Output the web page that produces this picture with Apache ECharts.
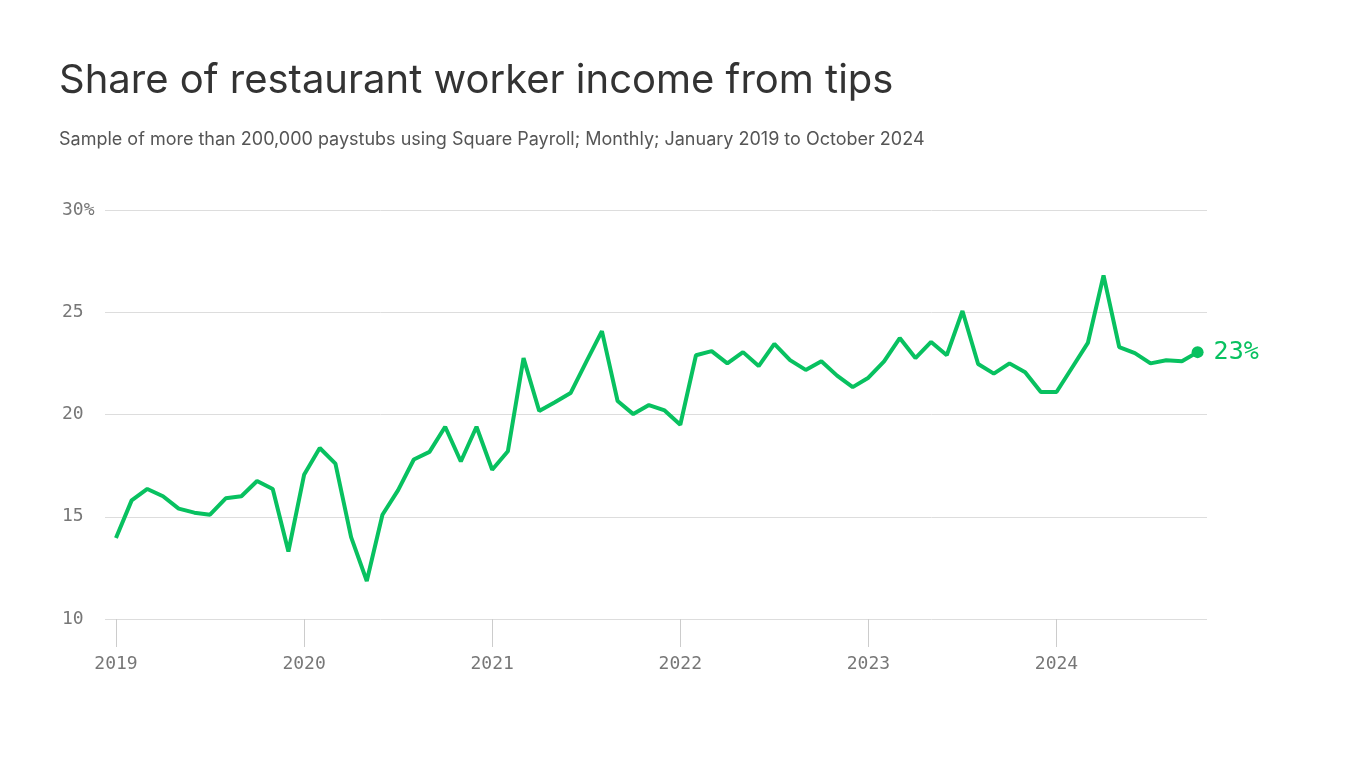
<!DOCTYPE html>
<html><head><meta charset="utf-8">
<script src="https://cdn.jsdelivr.net/npm/echarts@6/dist/echarts.min.js"></script>
<style>html,body{margin:0;background:#fff}#c{width:1366px;height:768px}</style>
</head><body><div id="c"></div>
<script>
const yearLabels = ['2019','2020','2021','2022','2023','2024'];
const tipShare = [13.96,15.8,16.36,16.0,15.4,15.2,15.1,15.9,16.0,16.75,16.36,13.3,
17.05,18.36,17.6,14.0,11.86,15.1,16.3,17.8,18.17,19.4,17.7,19.4,
17.3,18.2,22.76,20.17,20.6,21.05,22.57,24.08,20.66,20.02,20.46,20.2,
19.5,22.9,23.1,22.5,23.05,22.37,23.45,22.66,22.18,22.6,21.9,21.34,
21.8,22.6,23.74,22.76,23.55,22.9,25.06,22.47,22.0,22.5,22.07,21.1,
21.1,22.3,23.5,26.8,23.3,23.0,22.5,22.65,22.6,23.05];
const yTicks = [10,15,20,25,30];
const green = '#08c160';
const data = tipShare.map((v,i)=> i===tipShare.length-1 ? {value:[i,v],symbol:'circle',symbolSize:12,
  label:{show:true,position:'right',distance:10,formatter:'23%',fontSize:25,color:green,fontFamily:'DejaVu Sans Mono'}} : [i,v]);
const chart = echarts.init(document.getElementById('c'));
chart.setOption({
  animation:false,
  title:{text:'Share of restaurant worker income from tips',left:54,top:56,
    textStyle:{fontSize:40,fontWeight:'normal',color:'#333',fontFamily:'Inter'},
    subtext:'Sample of more than 200,000 paystubs using Square Payroll; Monthly; January 2019 to October 2024',
    subtextStyle:{fontSize:18,color:'#555',fontFamily:'Inter'},itemGap:30},
  grid:{left:105,right:159,top:210,bottom:149},
  xAxis:{type:'value',min:-0.7,max:69.6,
    axisLine:{show:false},splitLine:{show:false},
    axisTick:{show:true,customValues:[0,12,24,36,48,60],length:28,lineStyle:{color:'#ccc'}},
    axisLabel:{customValues:[0,12,24,36,48,60],formatter:v=>yearLabels[v/12],margin:36,
      fontSize:18,color:'#777',fontFamily:'DejaVu Sans Mono'}},
  yAxis:{type:'value',min:10,max:30,interval:5,
    axisLabel:{formatter:v=>v===30?'30%':String(v),align:'left',margin:43,fontSize:18,color:'#777',
      fontFamily:'DejaVu Sans Mono',verticalAlign:'middle'},
    splitLine:{lineStyle:{color:'#ddd'}},axisLine:{show:false},axisTick:{show:false}},
  series:[{type:'line',data:data,showSymbol:true,symbol:'none',lineStyle:{width:4,color:green},
    itemStyle:{color:green}}]
});
</script></body></html>
